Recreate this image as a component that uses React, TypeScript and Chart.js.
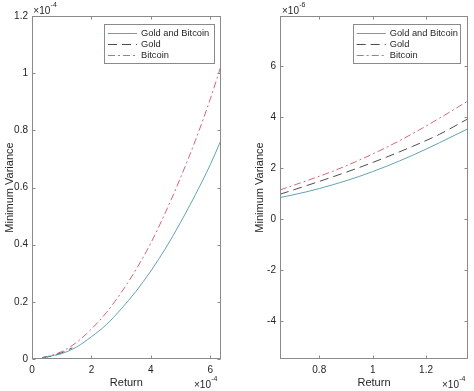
import React, { useEffect, useRef } from "react";
import { Chart, registerables } from "chart.js";

Chart.register(...registerables);

// ---------- data (returns in units of 1e-4, variances in units of 1e-4 / 1e-6) ----------
const SERIES_NAMES = ["Gold and Bitcoin", "Gold", "Bitcoin"];

const LEFT_X = [0.35, 0.5, 1, 1.5, 2, 2.5, 3, 3.5, 4, 4.5, 5, 5.5, 6, 6.35];
const LEFT_GB = [0.005, 0.008, 0.019, 0.042, 0.078, 0.12, 0.175, 0.237, 0.308, 0.388, 0.478, 0.575, 0.68, 0.763];
const LEFT_BTC = [0.005, 0.008, 0.026, 0.058, 0.105, 0.162, 0.232, 0.313, 0.406, 0.515, 0.635, 0.765, 0.91, 1.022];
const LEFT_GOLD_X = [0.35, 0.653, 1, 1.357];
const LEFT_GOLD = [0.005, 0.0098, 0.022, 0.039];

const RIGHT_X = [0.653, 0.75, 0.85, 0.95, 1.05, 1.15, 1.25, 1.357];
const RIGHT_GB = [0.84, 1.06, 1.34, 1.67, 2.06, 2.5, 2.99, 3.54];
const RIGHT_GOLD = [0.97, 1.3, 1.65, 2.02, 2.42, 2.85, 3.32, 3.93];
const RIGHT_BTC = [1.14, 1.49, 1.87, 2.31, 2.8, 3.35, 3.95, 4.63];

const LEFT_X_TICKS = [0, 2, 4, 6];
const LEFT_Y_TICKS = [0, 0.2, 0.4, 0.6, 0.8, 1, 1.2];
const RIGHT_X_TICKS = [0.8, 1, 1.2];
const RIGHT_Y_TICKS = [-4, -2, 0, 2, 4, 6];

// ---------- styles ----------
const COLORS = ["#62a2b4", "#4d4d4d", "#d4657b"];
const DASHES = [[], [9, 5], [7, 3, 2, 3]];
const AXIS_COLOR = "#8a8a8a";
const TEXT_COLOR = "#262626";
const FONT = "'Liberation Sans', Arial, Helvetica, sans-serif";

const zip = (xs: number[], ys: number[]) => xs.map((x, i) => ({ x, y: ys[i] }));

const decoPlugin = {
  id: "deco",
  afterDraw(chart: any, _args: any, opts: any) {
    const { ctx, chartArea: a } = chart;
    const xs = chart.scales.x;
    const ys = chart.scales.y;
    const L = Math.round(a.left) + 0.5;
    const R = Math.round(a.right) - 0.5;
    const T = Math.round(a.top) + 0.5;
    const B = Math.round(a.bottom) - 0.5;
    ctx.save();
    ctx.strokeStyle = AXIS_COLOR;
    ctx.lineWidth = 1;
    ctx.setLineDash([]);
    ctx.strokeRect(L, T, R - L, B - T);
    const tl = 3;
    ctx.beginPath();
    xs.ticks.forEach((t: any) => {
      const px = Math.round(xs.getPixelForValue(t.value)) + 0.5;
      ctx.moveTo(px, B);
      ctx.lineTo(px, B - tl);
      ctx.moveTo(px, T);
      ctx.lineTo(px, T + tl);
    });
    ys.ticks.forEach((t: any) => {
      const py = Math.round(ys.getPixelForValue(t.value)) + 0.5;
      ctx.moveTo(L, py);
      ctx.lineTo(L + tl, py);
      ctx.moveTo(R, py);
      ctx.lineTo(R - tl, py);
    });
    ctx.stroke();

    // legend
    const lg = opts.legend;
    ctx.fillStyle = "#ffffff";
    ctx.fillRect(lg.left, lg.top, lg.width, lg.height);
    ctx.strokeStyle = AXIS_COLOR;
    ctx.strokeRect(Math.round(lg.left) + 0.5, Math.round(lg.top) + 0.5, Math.round(lg.width), Math.round(lg.height));
    ctx.font = `9.3px ${FONT}`;
    ctx.textBaseline = "middle";
    ctx.textAlign = "left";
    chart.data.datasets.forEach((ds: any, i: number) => {
      const y = Math.round(lg.top + lg.firstRow + i * lg.rowGap) + 0.5;
      ctx.strokeStyle = ds.borderColor;
      ctx.setLineDash(ds.borderDash || []);
      ctx.beginPath();
      ctx.moveTo(lg.left + 4, y);
      ctx.lineTo(lg.left + 33, y);
      ctx.stroke();
      ctx.fillStyle = TEXT_COLOR;
      ctx.fillText(ds.label, lg.left + 37, y);
    });
    ctx.setLineDash([]);

    // exponent labels
    opts.exps.forEach((e: any) => {
      ctx.fillStyle = TEXT_COLOR;
      ctx.textBaseline = "middle";
      ctx.font = `10px ${FONT}`;
      ctx.fillText("\u00d710", e.x, e.y);
      const w = ctx.measureText("\u00d710").width;
      ctx.font = `7px ${FONT}`;
      ctx.fillText(e.exp, e.x + w + 0.3, e.y - 6);
    });
    ctx.restore();
  },
};

type PanelProps = {
  datasets: any[];
  xMin: number;
  xMax: number;
  yMin: number;
  yMax: number;
  xTicks: number[];
  yTicks: number[];
  yAxisWidth: number;
  rightPad: number;
  yTitlePad: number;
  legend: any;
  exps: any[];
  left: number;
};

function Panel(p: PanelProps) {
  const ref = useRef<HTMLCanvasElement | null>(null);
  useEffect(() => {
    if (!ref.current) return;
    const fmt = (v: number) => String(Number(v.toFixed(2)));
    const chart = new Chart(ref.current, {
      type: "line",
      data: { datasets: p.datasets },
      plugins: [decoPlugin],
      options: {
        responsive: false,
        animation: false,
        events: [],
        layout: { padding: { left: 0, right: p.rightPad, top: 16, bottom: 0 } },
        elements: { point: { radius: 0 }, line: { borderWidth: 1 } },
        plugins: {
          legend: { display: false },
          tooltip: { enabled: false },
          deco: { legend: p.legend, exps: p.exps },
        } as any,
        scales: {
          x: {
            type: "linear",
            min: p.xMin,
            max: p.xMax,
            grid: { display: false, drawTicks: false },
            border: { display: false },
            afterBuildTicks: (s: any) => {
              s.ticks = p.xTicks.map((v) => ({ value: v }));
            },
            afterFit: (s: any) => {
              s.height = 32;
            },
            ticks: {
              autoSkip: false,
              maxRotation: 0,
              padding: 5,
              color: TEXT_COLOR,
              font: { family: FONT, size: 10 },
              callback: (v: any) => fmt(Number(v)),
            },
            title: {
              display: true,
              text: "Return",
              color: TEXT_COLOR,
              font: { family: FONT, size: 11 },
              padding: { top: 0, bottom: 1.8 },
            },
          },
          y: {
            type: "linear",
            min: p.yMin,
            max: p.yMax,
            grid: { display: false, drawTicks: false },
            border: { display: false },
            afterBuildTicks: (s: any) => {
              s.ticks = p.yTicks.map((v) => ({ value: v }));
            },
            afterFit: (s: any) => {
              s.width = p.yAxisWidth;
            },
            ticks: {
              autoSkip: false,
              padding: 4,
              color: TEXT_COLOR,
              font: { family: FONT, size: 10 },
              callback: (v: any) => fmt(Number(v)),
            },
            title: {
              display: true,
              text: "Minimum Variance",
              color: TEXT_COLOR,
              font: { family: FONT, size: 11 },
              padding: { top: p.yTitlePad, bottom: 0 },
            },
          },
        },
      } as any,
    });
    return () => chart.destroy();
  }, []);
  return (
    <canvas
      ref={ref}
      width={237}
      height={391}
      style={{ position: "absolute", left: p.left, top: 0, width: 237, height: 391 }}
    />
  );
}

const mkDs = (label: string, i: number, data: any[]) => ({
  label,
  data,
  borderColor: COLORS[i],
  borderDash: DASHES[i],
  borderWidth: 1,
  pointRadius: 0,
  fill: false,
  cubicInterpolationMode: "monotone",
});

export default function App() {
  const leftDs = [
    mkDs(SERIES_NAMES[0], 0, zip(LEFT_X, LEFT_GB)),
    mkDs(SERIES_NAMES[1], 1, zip(LEFT_GOLD_X, LEFT_GOLD)),
    mkDs(SERIES_NAMES[2], 2, zip(LEFT_X, LEFT_BTC)),
  ];
  const rightDs = [
    mkDs(SERIES_NAMES[0], 0, zip(RIGHT_X, RIGHT_GB)),
    mkDs(SERIES_NAMES[1], 1, zip(RIGHT_X, RIGHT_GOLD)),
    mkDs(SERIES_NAMES[2], 2, zip(RIGHT_X, RIGHT_BTC)),
  ];
  return (
    <div style={{ position: "fixed", left: 0, top: 0, width: 474, height: 391, background: "#fff" }}>
      <Panel
        left={0}
        datasets={leftDs}
        xMin={0}
        xMax={6.35}
        yMin={0}
        yMax={1.2}
        xTicks={LEFT_X_TICKS}
        yTicks={LEFT_Y_TICKS}
        yAxisWidth={32}
        rightPad={16.3}
        yTitlePad={3}
        legend={{ left: 104, top: 23.5, width: 110, height: 39, firstRow: 9.2, rowGap: 11.2 }}
        exps={[
          { x: 33.3, y: 11, exp: "-4" },
          { x: 194, y: 385, exp: "-4" },
        ]}
      />
      <Panel
        left={237}
        datasets={rightDs}
        xMin={0.653}
        xMax={1.357}
        yMin={-5.49}
        yMax={7.96}
        xTicks={RIGHT_X_TICKS}
        yTicks={RIGHT_Y_TICKS}
        yAxisWidth={43}
        rightPad={6}
        yTitlePad={16.5}
        legend={{ left: 115.7, top: 23.5, width: 107, height: 39, firstRow: 9.2, rowGap: 11.2 }}
        exps={[
          { x: 45, y: 11, exp: "-6" },
          { x: 205, y: 385, exp: "-4" },
        ]}
      />
    </div>
  );
}
